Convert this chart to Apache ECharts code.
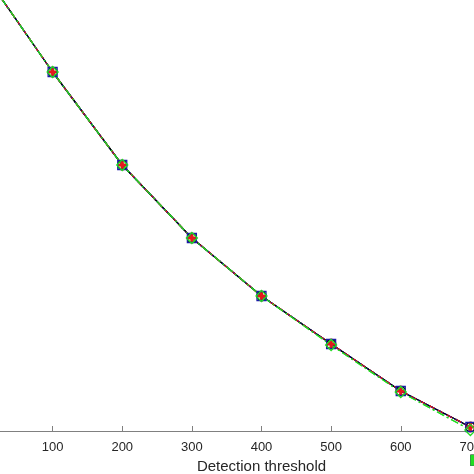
<!DOCTYPE html>
<html>
<head>
<meta charset="utf-8" />
<script src="https://cdn.jsdelivr.net/npm/echarts@6/dist/echarts.min.js"></script>
</head>
<body style="margin:0">
<div id="main" style="width:474px;height:474px;"></div>
<script>
var thresholds = [0, 100, 200, 300, 400, 500, 600, 700];
var yBase  = [459, 359, 266, 193, 135, 87, 40, 4];
var yGreen = [459, 359, 266, 193, 135, 86, 39, 1];
var names = [
  'γ=1,σ²=1,ρ=0.1', 'γ=1,σ²=1,ρ=0.9', 'γ=1,σ²=10,ρ=0.1', 'γ=1,σ²=10,ρ=0.9',
  'γ=10,σ²=1,ρ=0.1', 'γ=10,σ²=1,ρ=0.9', 'γ=10,σ²=10,ρ=0.1', 'γ=10,σ²=10,ρ=0.9'
];
var colors = ['#000000', '#e41a1c', '#1a1aa6', '#22dd22', '#000000', '#e41a1c', '#1a1aa6', '#22dd22'];
var types = ['solid', [6, 4], [1, 2], [8, 3, 2, 3], 'solid', [6, 4], [1, 2], [8, 3, 2, 3]];
var symbols = ['none', 'none', 'none', 'none', 'circle',
  'path://M4,0H6V4H10V6H6V10H4V6H0V4H4Z', 'rect', 'diamond'];
var values = [yBase, yBase, yBase, yGreen, yBase, yBase, yBase, yGreen];

var chart = echarts.init(document.getElementById('main'));
var series = names.map(function (n, i) {
  return {
    name: n, type: 'line',
    data: thresholds.map(function (x, j) { return [x, values[i][j]]; }),
    symbol: symbols[i], symbolSize: i === 7 ? 11 : 9,
    showSymbol: symbols[i] !== 'none',
    lineStyle: { color: colors[i], width: 1.3, type: types[i] },
    itemStyle: { color: i === 5 ? colors[i] : 'none', borderColor: colors[i], borderWidth: 1.3 },
    emphasis: { disabled: true }, animation: false
  };
});
chart.setOption({
  animation: false,
  grid: { left: -17, right: -66, top: 0, bottom: 43, outerBoundsMode: 'none', containLabel: false },
  xAxis: {
    type: 'value', min: 0, max: 800, interval: 100,
    name: 'Detection threshold', nameLocation: 'middle', nameGap: 25,
    nameTextStyle: { fontFamily: 'Liberation Sans', fontSize: 15, color: '#262626' },
    axisLine: { lineStyle: { color: '#808080' } },
    axisTick: { inside: true, length: 5, lineStyle: { color: '#808080' } },
    axisLabel: { fontFamily: 'Liberation Sans', fontSize: 13, color: '#262626', margin: 10 },
    splitLine: { show: false }
  },
  yAxis: { type: 'value', min: 0, max: 431, show: false },
  legend: {
    left: 355, top: 25, orient: 'vertical', itemGap: 7.5, itemWidth: 42, itemHeight: 11,
    backgroundColor: '#fff', borderColor: '#888', borderWidth: 1, padding: [8, 40, 10, 6],
    textStyle: { fontFamily: 'Liberation Sans', fontSize: 13, color: '#000' },
    data: names.map(function (n, i) {
      return symbols[i] === 'none' ? { name: n, icon: 'path://M0,0L0.01,0' } : { name: n };
    })
  },
  series: series
});
</script>
</body>
</html>
